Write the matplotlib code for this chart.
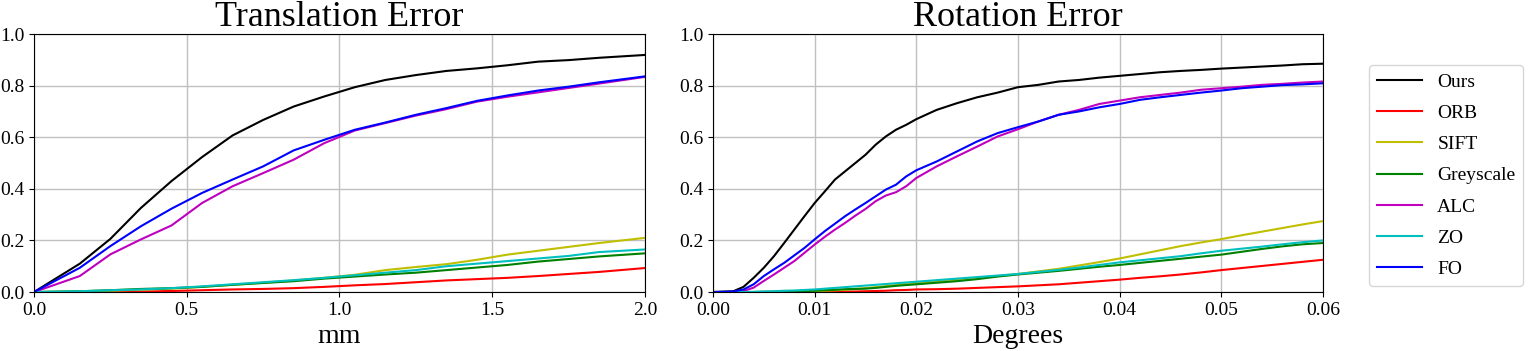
import matplotlib
matplotlib.use('Agg')
import matplotlib.pyplot as plt

plt.rcParams['font.family'] = ['Liberation Serif', 'DejaVu Serif']

methods = ['Ours', 'ORB', 'SIFT', 'Greyscale', 'ALC', 'ZO', 'FO']
colors = ['k', 'r', 'y', 'g', 'm', 'c', 'b']

# translation error (mm)
trans_x = [0.0, 0.15, 0.25, 0.35, 0.45, 0.55, 0.65, 0.75, 0.85, 0.95, 1.05,
           1.15, 1.25, 1.35, 1.45, 1.55, 1.65, 1.75, 1.85, 2.0]
trans_ours = [0.0, 0.11, 0.206, 0.326, 0.43, 0.523, 0.607, 0.667, 0.719, 0.758, 0.794,
              0.822, 0.841, 0.857, 0.867, 0.879, 0.893, 0.899, 0.908, 0.919]
trans_orb = [0.0, 0.0, 0.001, 0.002, 0.004, 0.007, 0.01, 0.012, 0.015, 0.02, 0.026,
             0.031, 0.038, 0.045, 0.05, 0.055, 0.062, 0.07, 0.078, 0.093]
trans_sift = [0.0, 0.002, 0.005, 0.009, 0.013, 0.02, 0.028, 0.036, 0.045, 0.055, 0.067,
              0.085, 0.097, 0.108, 0.125, 0.145, 0.16, 0.175, 0.19, 0.21]
trans_grey = [0.0, 0.003, 0.007, 0.012, 0.015, 0.02, 0.028, 0.035, 0.042, 0.052, 0.06,
              0.068, 0.075, 0.085, 0.095, 0.105, 0.118, 0.128, 0.138, 0.15]
trans_alc = [0.0, 0.062, 0.146, 0.204, 0.258, 0.345, 0.41, 0.461, 0.513, 0.577, 0.626,
             0.655, 0.684, 0.709, 0.738, 0.757, 0.774, 0.791, 0.808, 0.834]
trans_zo = [0.0, 0.003, 0.007, 0.01, 0.015, 0.022, 0.03, 0.038, 0.046, 0.055, 0.065,
            0.075, 0.085, 0.1, 0.11, 0.12, 0.13, 0.14, 0.155, 0.165]
trans_fo = [0.0, 0.094, 0.178, 0.255, 0.323, 0.384, 0.436, 0.487, 0.549, 0.59, 0.629,
            0.657, 0.687, 0.713, 0.741, 0.762, 0.781, 0.796, 0.813, 0.836]

# rotation error (degrees)
rot_x = [0.0, 0.002, 0.003, 0.004, 0.005, 0.006, 0.007, 0.008, 0.009, 0.010, 0.011,
         0.012, 0.013, 0.014, 0.015, 0.016, 0.017, 0.018, 0.019, 0.020, 0.022,
         0.024, 0.026, 0.028, 0.030, 0.032, 0.034, 0.036, 0.038, 0.040, 0.042,
         0.044, 0.046, 0.048, 0.050, 0.052, 0.054, 0.056, 0.058, 0.060]
rot_ours = [0.0, 0.003, 0.02, 0.055, 0.094, 0.139, 0.19, 0.242, 0.294, 0.345, 0.39,
            0.436, 0.468, 0.5, 0.532, 0.571, 0.603, 0.629, 0.648, 0.67, 0.706,
            0.732, 0.755, 0.773, 0.794, 0.803, 0.816, 0.822, 0.831, 0.838, 0.845,
            0.852, 0.857, 0.861, 0.866, 0.87, 0.874, 0.878, 0.883, 0.885]
rot_orb = [0.0, 0.0, 0.0, 0.0, 0.0, 0.0, 0.0, 0.0, 0.0, 0.0, 0.001,
           0.001, 0.002, 0.002, 0.003, 0.004, 0.005, 0.007, 0.008, 0.01, 0.011,
           0.013, 0.016, 0.019, 0.022, 0.026, 0.03, 0.036, 0.042, 0.048, 0.055,
           0.061, 0.068, 0.076, 0.085, 0.093, 0.101, 0.109, 0.117, 0.125]
rot_sift = [0.0, 0.0, 0.0, 0.0, 0.0, 0.001, 0.001, 0.002, 0.002, 0.003, 0.005,
            0.007, 0.009, 0.012, 0.015, 0.019, 0.023, 0.027, 0.031, 0.035, 0.041,
            0.047, 0.054, 0.062, 0.07, 0.08, 0.09, 0.103, 0.116, 0.13, 0.146,
            0.162, 0.178, 0.192, 0.205, 0.22, 0.234, 0.248, 0.262, 0.275]
rot_grey = [0.0, 0.0, 0.0, 0.0, 0.001, 0.001, 0.002, 0.003, 0.004, 0.005, 0.007,
            0.009, 0.011, 0.012, 0.013, 0.016, 0.02, 0.024, 0.027, 0.03, 0.036,
            0.042, 0.05, 0.06, 0.068, 0.075, 0.082, 0.09, 0.098, 0.105, 0.113,
            0.121, 0.129, 0.137, 0.145, 0.156, 0.167, 0.177, 0.185, 0.19]
rot_alc = [0.0, 0.0, 0.004, 0.017, 0.043, 0.068, 0.094, 0.12, 0.152, 0.184, 0.214,
           0.242, 0.268, 0.296, 0.322, 0.352, 0.374, 0.387, 0.41, 0.442, 0.487,
           0.526, 0.564, 0.603, 0.631, 0.661, 0.687, 0.706, 0.729, 0.742, 0.755,
           0.764, 0.773, 0.784, 0.79, 0.796, 0.803, 0.807, 0.812, 0.816]
rot_zo = [0.0, 0.0, 0.0, 0.001, 0.002, 0.003, 0.005, 0.006, 0.008, 0.01, 0.013,
          0.016, 0.019, 0.022, 0.025, 0.028, 0.031, 0.034, 0.037, 0.04, 0.046,
          0.052, 0.058, 0.064, 0.07, 0.078, 0.086, 0.095, 0.105, 0.115, 0.123,
          0.131, 0.139, 0.15, 0.16, 0.168, 0.176, 0.185, 0.193, 0.2]
rot_fo = [0.0, 0.002, 0.01, 0.03, 0.062, 0.088, 0.113, 0.142, 0.171, 0.204, 0.236,
          0.265, 0.294, 0.32, 0.345, 0.371, 0.397, 0.416, 0.448, 0.472, 0.506,
          0.545, 0.584, 0.616, 0.639, 0.661, 0.687, 0.7, 0.716, 0.729, 0.745,
          0.755, 0.764, 0.773, 0.781, 0.79, 0.796, 0.802, 0.805, 0.809]

trans_series = [trans_ours, trans_orb, trans_sift, trans_grey, trans_alc, trans_zo, trans_fo]
rot_series = [rot_ours, rot_orb, rot_sift, rot_grey, rot_alc, rot_zo, rot_fo]

fig = plt.figure(figsize=(15.31, 3.51), dpi=100)
ax1 = fig.add_axes([0.0222, 0.168, 0.3991, 0.735])
ax2 = fig.add_axes([0.4657, 0.168, 0.3984, 0.735])

for name, c, ys in zip(methods, colors, trans_series):
    ax1.plot(trans_x, ys, color=c, lw=1.5, label=name)
for name, c, ys in zip(methods, colors, rot_series):
    ax2.plot(rot_x, ys, color=c, lw=1.5, label=name)

ax1.set_xlim(0, 2.0)
ax1.set_xticks([0.0, 0.5, 1.0, 1.5, 2.0])
ax1.set_xlabel('mm', fontsize=20)
ax1.set_title('Translation Error', fontsize=26, pad=4)

ax2.set_xlim(0, 0.06)
ax2.set_xticks([0.0, 0.01, 0.02, 0.03, 0.04, 0.05, 0.06])
ax2.set_xticklabels(['0.00', '0.01', '0.02', '0.03', '0.04', '0.05', '0.06'])
ax2.set_xlabel('Degrees', fontsize=20)
ax2.set_title('Rotation Error', fontsize=26, pad=4)

for ax in (ax1, ax2):
    ax.set_ylim(0, 1.0)
    ax.set_yticks([0.0, 0.2, 0.4, 0.6, 0.8, 1.0])
    ax.tick_params(labelsize=14)
    ax.grid(True, color='#c0c0c0', lw=1)
    ax.set_axisbelow(True)

ax2.legend(loc='center left', bbox_to_anchor=(0.888, 0.5), bbox_transform=fig.transFigure,
           fontsize=14, handlelength=2.3, labelspacing=0.7)

fig.savefig('out.png', dpi=100)
